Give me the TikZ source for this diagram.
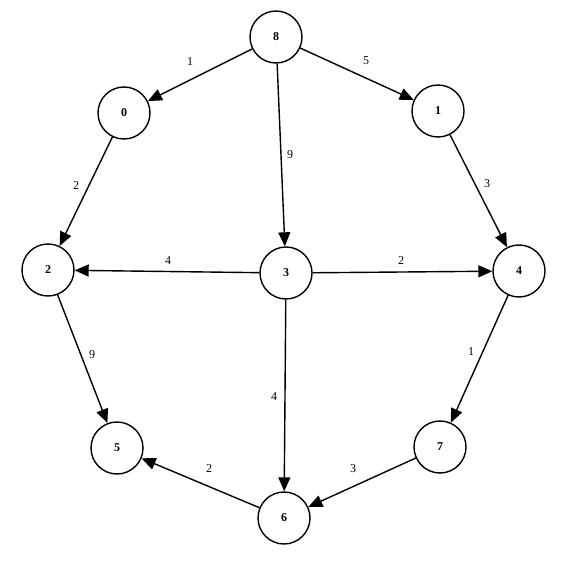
\documentclass[tikz,border=0pt]{standalone}
\usepackage{fontspec}
\setmainfont{Liberation Serif}
\usetikzlibrary{arrows.meta}

\begin{document}
\begin{tikzpicture}[x=1pt, y=-1pt, line width=1.4pt,
    vertex/.style={circle, draw, fill=white, minimum size=52pt, inner sep=0pt, font=\fontsize{12}{14}\selectfont\bfseries},
    arc/.style={-{Triangle[length=14pt,width=12pt]}},
    wt/.style={font=\fontsize{12}{14}\selectfont}]

    \useasboundingbox (0,0) rectangle (570,561);

    % Define vertices with coordinates
    \node[vertex] (v8) at (276,37) {8};
    \node[vertex] (v0) at (124,113) {0};
    \node[vertex] (v1) at (438,111) {1};
    \node[vertex] (v2) at (48,270) {2};
    \node[vertex] (v3) at (286,273) {3};
    \node[vertex] (v4) at (519,271) {4};
    \node[vertex] (v5) at (117,448) {5};
    \node[vertex] (v7) at (440,447) {7};
    \node[vertex] (v6) at (284,518) {6};
    % Draw weighted edges
    \draw[arc] (v8) -- (v0);
    \draw[arc] (v8) -- (v1);
    \draw[arc] (v8) -- (v3);
    \draw[arc] (v0) -- (v2);
    \draw[arc] (v1) -- (v4);
    \draw[arc] (v3) -- (v2);
    \draw[arc] (v3) -- (v4);
    \draw[arc] (v2) -- (v5);
    \draw[arc] (v3) -- (v6);
    \draw[arc] (v4) -- (v7);
    \draw[arc] (v7) -- (v6);
    \draw[arc] (v6) -- (v5);
    % Weights
    \node[wt] (w80) at (190,62) {1};
    \node[wt] (w81) at (366,61) {5};
    \node[wt] (w83) at (290,155) {9};
    \node[wt] (w02) at (76,186) {2};
    \node[wt] (w14) at (487,184) {3};
    \node[wt] (w32) at (168,261) {4};
    \node[wt] (w34) at (401,261) {2};
    \node[wt] (w25) at (92,355) {9};
    \node[wt] (w36) at (274,397) {4};
    \node[wt] (w47) at (471,352) {1};
    \node[wt] (w76) at (353,469) {3};
    \node[wt] (w65) at (209,469) {2};
\end{tikzpicture}
\end{document}
